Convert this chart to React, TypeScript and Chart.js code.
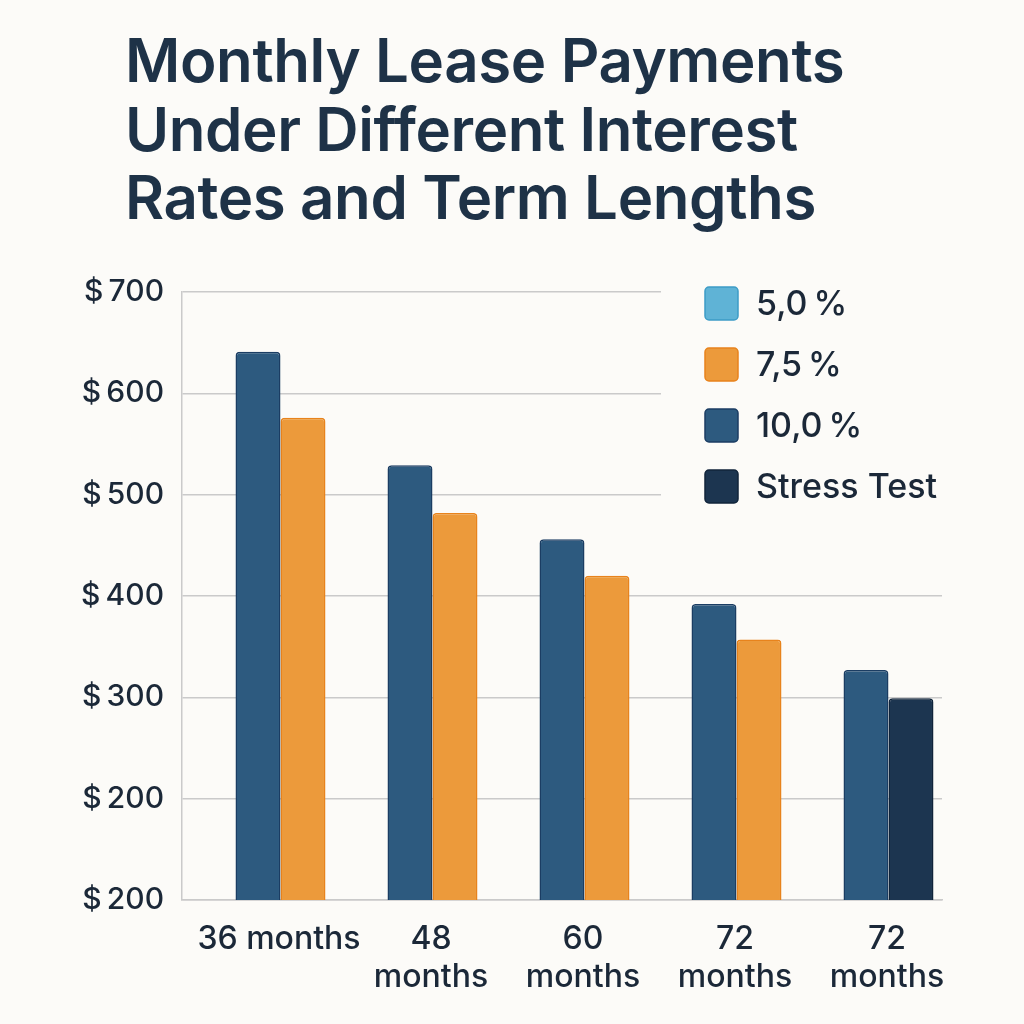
import React, { useEffect, useRef } from "react";
import { Chart, registerables } from "chart.js";

Chart.register(...registerables);

const BG = "#fcfbf8";
const TEXT = "#1b2838";
const GRID = "#cacaca";

const categories: (string | string[])[] = [
  "36 months",
  ["48", "months"],
  ["60", "months"],
  ["72", "months"],
  ["72", "months"],
];

const yTickValues = [100, 200, 300, 400, 500, 600, 700];
const yTickLabels = ["$\u2009200", "$\u2009200", "$\u2009300", "$\u2009400", "$\u2009500", "$\u2009600", "$\u2009700"];

const seriesLabels = ["5,0\u2009%", "7,5\u2009%", "10,0\u2009%", "Stress Test"];
const fivePct: (number | null)[] = [null, null, null, null, null];
const sevenFivePct: (number | null)[] = [576, 482, 420, 357, null];
const tenPct: (number | null)[] = [641, 529, 456, 392, 327];
const stressTest: (number | null)[] = [null, null, null, null, 299];

const fills = ["#5fb3d6", "#ec9a3b", "#2d5a7f", "#1c3550"];
const borders = ["#3d9cc6", "#e8831c", "#1b3d63", "#10243a"];

const legendPlugin = {
  id: "customLegend",
  beforeDatasetsDraw(chart: any) {
    const ctx = chart.ctx;
    ctx.save();
    ctx.fillStyle = BG;
    ctx.fillRect(661, 278, 290, 252);
    ctx.restore();
  },
  afterDraw(chart: any) {
    const ctx = chart.ctx;
    ctx.save();
    seriesLabels.forEach((lab, i) => {
      const ds = chart.data.datasets.find((d: any) => d.label === lab);
      if (!ds) return;
      const x = 705;
      const y = 287 + i * 61;
      const s = 33;
      ctx.beginPath();
      ctx.roundRect(x, y, s, s, 4);
      ctx.fillStyle = ds.backgroundColor;
      ctx.fill();
      ctx.lineWidth = 1.5;
      ctx.strokeStyle = ds.borderColor;
      ctx.stroke();
      ctx.fillStyle = TEXT;
      ctx.font = "500 34px Inter";
      ctx.textBaseline = "middle";
      ctx.textAlign = "left";
      ctx.fillText(ds.label, 756, y + s / 2 + 1);
    });
    ctx.restore();
  },
};

export default function App() {
  const ref = useRef<HTMLCanvasElement>(null);
  useEffect(() => {
    if (!ref.current) return;
    const mk = (i: number, data: (number | null)[], stack: string) => ({
      label: seriesLabels[i],
      data,
      stack,
      backgroundColor: fills[i],
      borderColor: borders[i],
      borderWidth: 1.5,
      borderRadius: { topLeft: 4, topRight: 4, bottomLeft: 0, bottomRight: 0 },
      borderSkipped: "bottom",
      barPercentage: 1,
      categoryPercentage: 0.888,
    });
    const chart = new Chart(ref.current, {
      type: "bar",
      data: {
        labels: categories,
        datasets: [
          mk(0, fivePct, "empty"),
          mk(2, tenPct, "a"),
          mk(1, sevenFivePct, "b"),
          mk(3, stressTest, "b"),
        ] as any,
      },
      options: {
        animation: false,
        responsive: false,
        maintainAspectRatio: false,
        layout: { padding: { left: 72, top: 292, right: 82, bottom: 0 } },
        plugins: {
          legend: { display: false },
          title: { display: false },
          tooltip: { enabled: false },
        },
        scales: {
          x: {
            grid: { display: false, drawTicks: false },
            border: { display: true, color: GRID, width: 1.5 },
            ticks: {
              color: TEXT,
              font: { family: "Inter", size: 32, weight: 500, lineHeight: 1.17 },
              padding: 21,
              labelOffset: 21,
              maxRotation: 0,
              autoSkip: false,
            },
            afterFit(scale: any) {
              scale.height = 124;
            },
          },
          y: {
            min: 100,
            max: 700,
            afterBuildTicks(scale: any) {
              scale.ticks = yTickValues.map((v) => ({ value: v }));
            },
            grid: { color: GRID, lineWidth: 1.5, drawTicks: false },
            border: { display: true, color: GRID, width: 1.5 },
            ticks: {
              color: TEXT,
              font: { family: "Inter", size: 30, weight: 500 },
              padding: 18,
              callback: (_v: any, i: number) => yTickLabels[i],
            },
            afterFit(scale: any) {
              scale.width = 110;
            },
          },
        },
      } as any,
      plugins: [legendPlugin],
    });
    return () => chart.destroy();
  }, []);

  return (
    <div style={{ position: "relative", width: 1024, height: 1024, background: BG }}>
      <style>{`body{margin:0;background:${BG};}`}</style>
      <div
        style={{
          position: "absolute",
          left: 125,
          top: 26,
          fontFamily: "Inter",
          fontWeight: 600,
          fontSize: 60,
          letterSpacing: "-0.4px",
          lineHeight: "68.5px",
          color: "#1e3247",
          whiteSpace: "nowrap",
        }}
      >
        Monthly Lease Payments
        <br />
        Under Different Interest
        <br />
        Rates and Term Lengths
      </div>
      <canvas ref={ref} width={1024} height={1024} style={{ position: "absolute", left: 0, top: 0 }} />
    </div>
  );
}
